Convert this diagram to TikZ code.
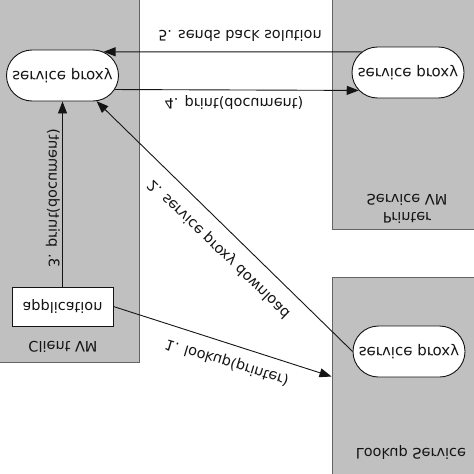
\documentclass[tikz,border=0pt]{standalone}
\usepackage{fontspec}
\setmainfont{DejaVu Sans}
\usetikzlibrary{shapes.misc,arrows.meta}
\definecolor{vmgray}{RGB}{192,192,192}
\definecolor{vmborder}{RGB}{100,100,100}
\definecolor{ink}{RGB}{20,20,20}
\begin{document}
\begin{tikzpicture}[x=1pt,y=1pt,yscale=-1,
  every node/.append style={transform shape},
  vmbox/.style={draw=vmborder, fill=vmgray, line width=1pt, rectangle, inner sep=0pt},
  proxy/.style={draw=ink, fill=white, line width=0.9pt, rounded rectangle, minimum width=112pt, minimum height=51pt, inner sep=0pt, font=\fontsize{15}{18}\selectfont, text=ink},
  appbox/.style={draw=ink, fill=white, line width=0.9pt, rectangle, minimum width=101pt, minimum height=39pt, inner sep=0pt, font=\fontsize{14.5}{18}\selectfont, text=ink},
  lbl/.style={font=\fontsize{14.5}{18}\selectfont, text=ink, inner sep=0pt, align=center},
  arr/.style={draw=ink, line width=0.9pt, -{Triangle[length=12pt,width=9pt]}}]
\clip (0,0) rectangle (474,474);
% VM boxes
\node[vmbox, minimum width=140pt, minimum height=363pt] (cvmbox) at (69,180.5) {};
\node[vmbox, minimum width=144pt, minimum height=230pt] (pvmbox) at (404,114) {};
\node[vmbox, minimum width=144pt, minimum height=199pt] (lvmbox) at (404,376.5) {};
% box labels
\node[lbl] (cvm) at (63,347) {Client VM};
\node[lbl] (pvm) at (407,209) {Printer\\Service VM};
\node[lbl] (lvm) at (411,452) {Lookup Service};
% nodes
\node[proxy] (cp) at (62.5,75.5) {service proxy};
\node[proxy] (pp) at (408,72.5) {service proxy};
\node[proxy] (lp) at (409,351.5) {service proxy};
\node[appbox] (app) at (62.5,306.5) {application};
% connectors
\draw[arr] (pp.204) -- (cp.-30.5);
\draw[arr] (cp.15.9) -- (pp.160.3);
\draw[arr] (app.south) -- (cp.north);
\draw[arr] (lp.west) -- (cp.37.5);
\draw[arr] (app.east) -- (lvmbox.west);
% connector labels
\node[lbl] (l5) at (240,36) {5. sends back solution};
\node[lbl] (l4) at (234,102) {4. print(document)};
\node[lbl, rotate=-90] (l3) at (53,198) {3. print(document)};
\node[lbl, rotate=44] (l2) at (219,249) {2. service proxy download};
\node[lbl, rotate=17] (l1) at (227,362) {1. lookup(printer)};
\end{tikzpicture}
\end{document}
